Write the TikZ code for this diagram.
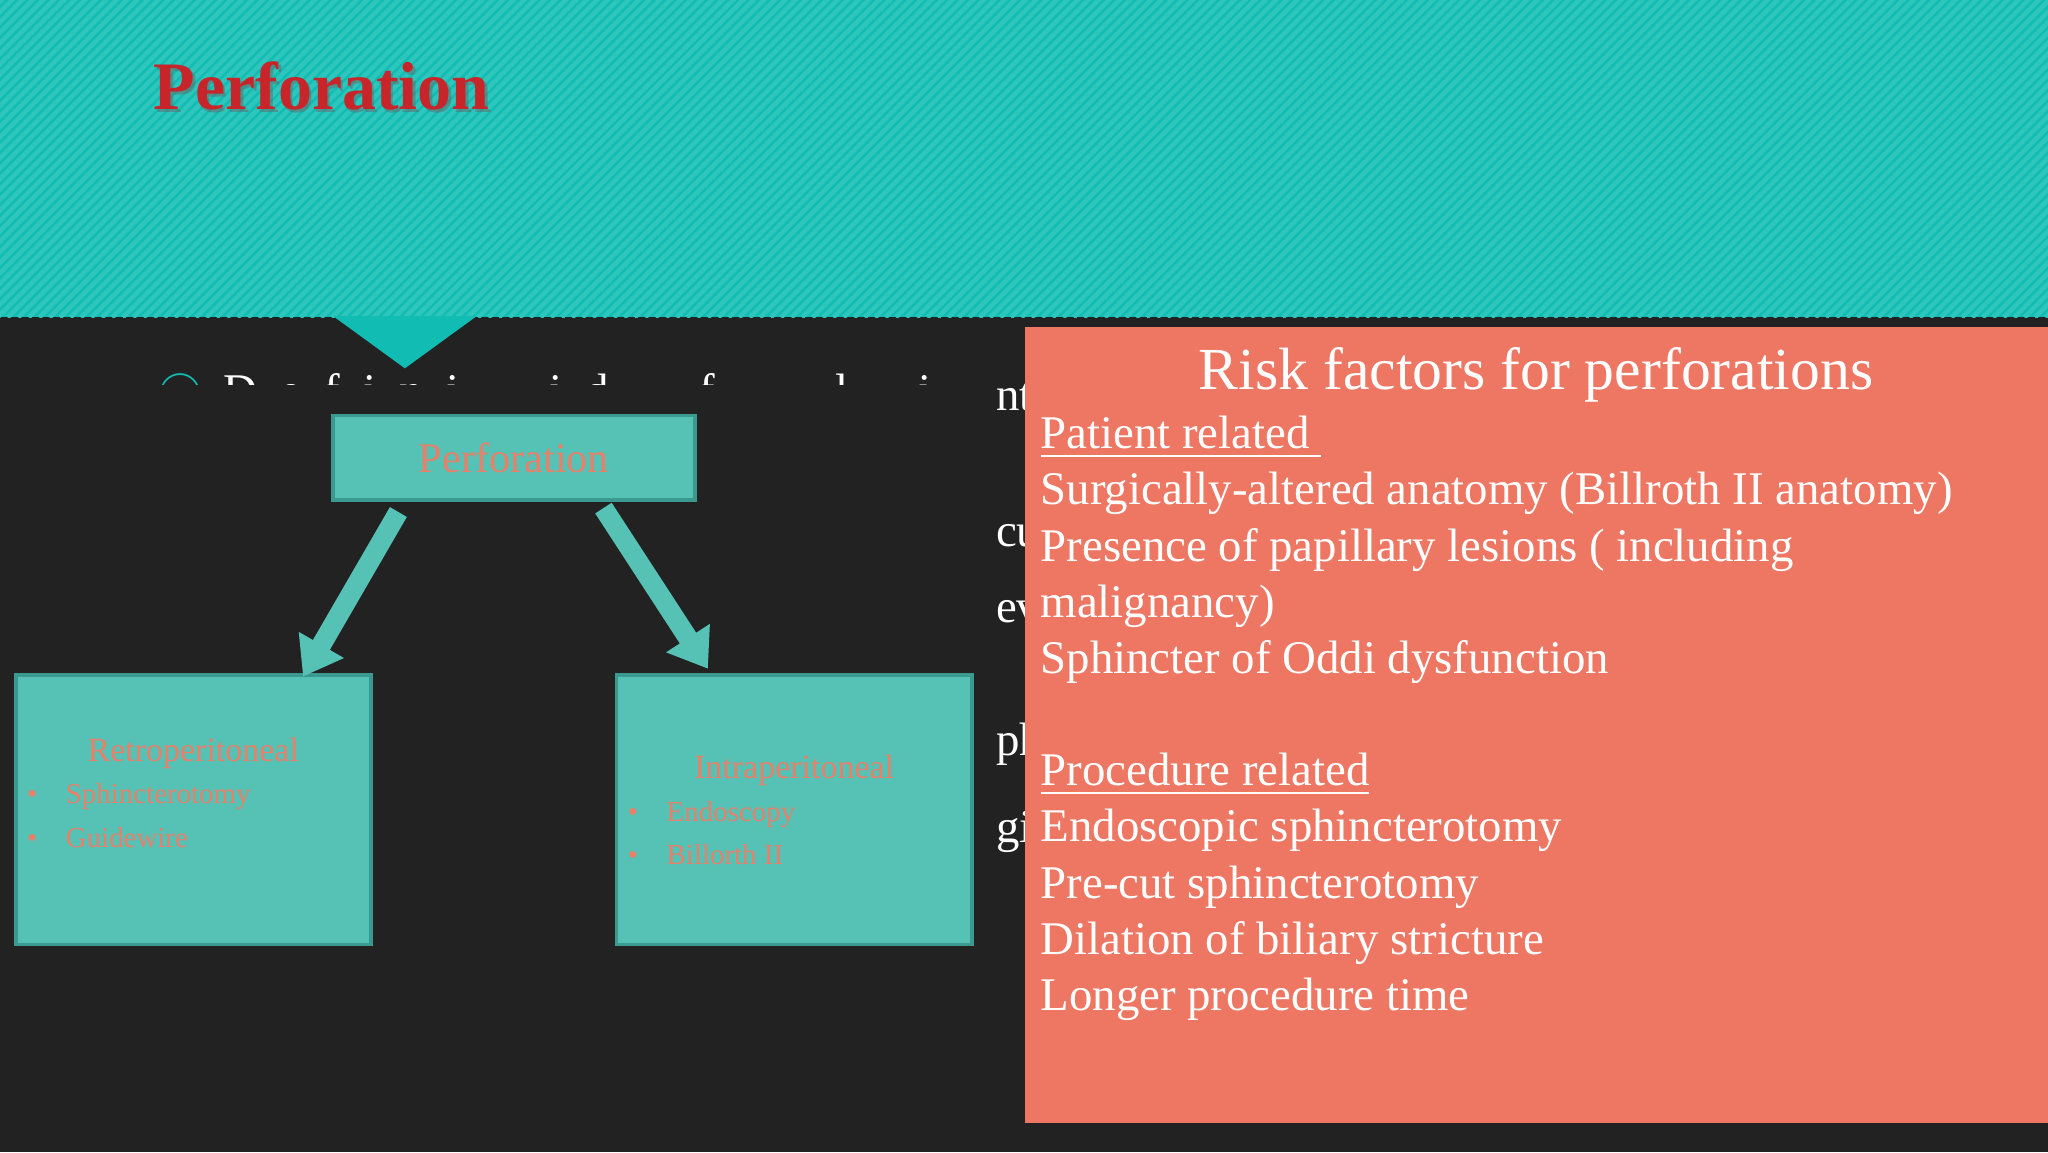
\documentclass[tikz,border=0pt]{standalone}
\usepackage{fontspec}
\setmainfont{Liberation Serif}
\usetikzlibrary{arrows.meta}
\definecolor{bg}{HTML}{222222}
\definecolor{teal1}{HTML}{11BCB2}
\definecolor{teal2}{HTML}{2EC6BC}
\definecolor{boxfill}{HTML}{55C2B5}
\definecolor{boxline}{HTML}{3A9A90}
\definecolor{faded}{HTML}{E8806A}
\definecolor{redbox}{HTML}{EE7763}
\definecolor{titlered}{HTML}{C8252B}
\tikzset{
 flowbox/.style={draw=boxline,line width=0.8pt,fill=boxfill},
 fat/.style={-{Triangle[length=0.28cm,width=0.38cm]},line width=0.15cm,draw=boxfill},
 faint/.style={text=faded,font=\fontsize{7.4}{8}\selectfont,inner sep=0},
 bul/.style={text=faded,font=\fontsize{6.3}{7}\selectfont,inner sep=0,anchor=west},
 risk/.style={text=white,font=\fontsize{10.2}{12}\selectfont,anchor=west,inner sep=0},
 frag/.style={text=white,font=\fontsize{10.2}{12}\selectfont,anchor=west,inner sep=0}
}
\begin{document}
\begin{tikzpicture}[x=1cm,y=1cm]
\useasboundingbox (0,0) rectangle (15.68,8.82);
\fill[bg] (0,0) rectangle (15.68,8.82);
% header
\begin{scope}
\clip (0,6.39) rectangle (15.68,8.82);
\fill[teal1] (0,6.39) rectangle (15.68,8.82);
\foreach \i in {0,...,230}{
 \draw[teal2,line width=1pt] ({\i*0.08-2.5},6.39) -- ++(2.5,2.5);
}
\end{scope}
\fill[teal1] (2.55,6.40) -- (3.65,6.40) -- (3.10,6.00) -- cycle;
\node[text=black!60,font=\bfseries\fontsize{14.8}{16}\selectfont,anchor=west,inner sep=0,opacity=0.5] at (1.19,8.14) {Perforation};
\node[text=titlered,font=\bfseries\fontsize{14.8}{16}\selectfont,anchor=west,inner sep=0] (title) at (1.17,8.16) {Perforation};
% hidden body text fragments
\node[frag] (f0) at (7.62,5.78) {nt};
\node[frag] (f1) at (7.62,4.72) {cu};
\node[frag] (f2) at (7.62,4.14) {ev};
\node[frag] (f3) at (7.62,3.12) {ph};
\node[frag] (f4) at (7.62,2.45) {gi};
\begin{scope}
\clip (1.0,5.88) rectangle (7.6,6.2);
\node[text=white,font=\fontsize{10.2}{12}\selectfont,anchor=west,inner sep=0] (f5) at (1.20,5.80) {\textcolor{teal1}{$\bigcirc$}\, D\,\,\,e\,\,\,f\,\,\,i\,\,\,n\,\,\,i\,\,\,\,\,\,\, \,\,\,i\,\,\,d\,\,\,\,\,\, \,\,\,\,f\,\,\,\,\,\,\,\, \,\,\,\,\,\,l\,\,\,\,\,\,\,\,\,i\,\,\,\,\,\,\,\,l};
\end{scope}
% flowchart
\node[flowbox,minimum width=2.77cm,minimum height=0.65cm,text=faded,font=\fontsize{9.2}{11}\selectfont] (perf) at (3.935,5.315) {Perforation};
\node[flowbox,minimum width=2.72cm,minimum height=2.06cm] (retro) at (1.48,2.62) {};
\node[flowbox,minimum width=2.72cm,minimum height=2.06cm] (intra) at (6.08,2.62) {};
\draw[fat] (3.05,4.90) -- (2.32,3.64);
\draw[fat] (4.62,4.93) -- (5.42,3.70);
\node[faint] (rt) at (1.48,3.05) {Retroperitoneal};
\node[bul] (r1) at (0.20,2.72) {\textbullet\hspace{0.22cm}Sphincterotomy};
\node[bul] (r2) at (0.20,2.41) {\textbullet\hspace{0.22cm}Guidewire};
\node[faint] (it) at (6.08,2.92) {Intraperitoneal};
\node[bul] (i1) at (4.80,2.58) {\textbullet\hspace{0.22cm}Endoscopy};
\node[bul] (i2) at (4.80,2.28) {\textbullet\hspace{0.22cm}Billorth II};
% risk box
\fill[redbox] (7.85,0.22) rectangle (15.68,6.32);
\node[text=white,font=\fontsize{13}{15}\selectfont,inner sep=0] (rh) at (11.76,5.95) {Risk factors for perforations};
\node[risk] at (7.96,5.47) {\underline{Patient related\ }};
\node[risk] at (7.96,5.04) {Surgically-altered anatomy (Billroth II anatomy)};
\node[risk] at (7.96,4.61) {Presence of papillary lesions ( including};
\node[risk] at (7.96,4.18) {malignancy)};
\node[risk] at (7.96,3.75) {Sphincter of Oddi dysfunction};
\node[risk] at (7.96,2.89) {\underline{Procedure related}};
\node[risk] at (7.96,2.46) {Endoscopic sphincterotomy};
\node[risk] at (7.96,2.03) {Pre-cut sphincterotomy};
\node[risk] at (7.96,1.60) {Dilation of biliary stricture};
\node[risk] at (7.96,1.17) {Longer procedure time};
\end{tikzpicture}
\end{document}
